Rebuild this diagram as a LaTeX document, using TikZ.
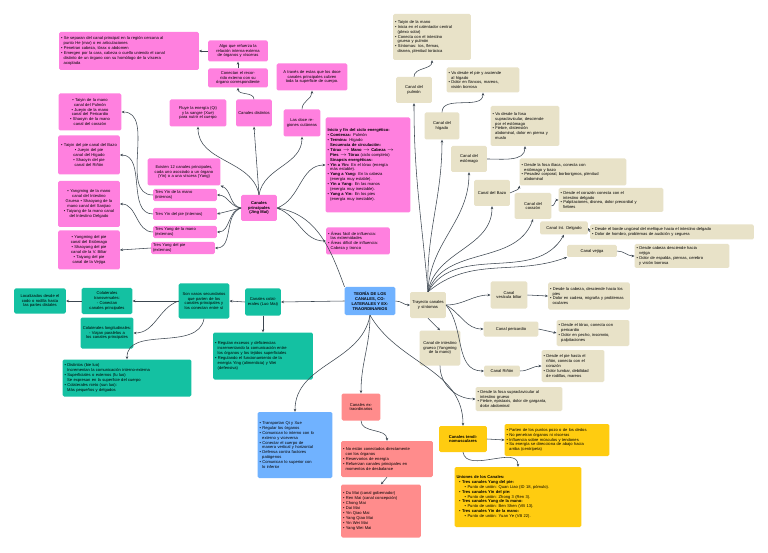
\documentclass[tikz,border=0pt]{standalone}
\usepackage{fontspec}
\setmainfont{Liberation Sans}
\usetikzlibrary{arrows.meta}
\definecolor{pinkc}{HTML}{FF80DF}
\definecolor{tealc}{HTML}{14C1A2}
\definecolor{bluec}{HTML}{70B2FF}
\definecolor{redc}{HTML}{FF8C8C}
\definecolor{beigec}{HTML}{E8E2C8}
\definecolor{yelc}{HTML}{FFCC10}
\definecolor{linec}{HTML}{3C4650}
\tikzset{
 base/.style={rounded corners=1.5pt, align=center, font=\fontsize{4.1}{4.9}\selectfont, inner sep=1.8pt, minimum height=12pt},
 pk/.style={base, fill=pinkc},
 tl/.style={base, fill=tealc},
 bl/.style={base, fill=bluec},
 rd/.style={base, fill=redc},
 bg/.style={base, fill=beigec},
 yl/.style={base, fill=yelc},
 lst/.style={align=left},
 arr/.style={-{Stealth[length=3pt,width=2.6pt]}, draw=linec, line width=0.55pt},
}
\begin{document}
\begin{tikzpicture}[x=1pt,y=-1pt]
\useasboundingbox[fill=white] (0,0) rectangle (768,553);
% ---------- pink ----------
\node[pk,lst,text width=136pt,minimum height=38pt] (p1) at (129,51) {• Se separan del canal principal en la región cercana al\\ \ \ punto He (mar) o en articulaciones\\• Penetran cabeza, tórax o abdomen\\• Emergen por la cara, cabeza o cuello uniendo el canal\\ \ \ distinto de un órgano con su homólogo de la víscera\\ \ \ acoplada};
\node[pk,text width=56pt,minimum height=21pt] (p2) at (238,51) {Algo que refuerza la relación interna-externa de órganos y vísceras};
\node[pk,text width=56pt,minimum height=19pt] (p3) at (238,78) {Conectan el recorrido externo con su órgano correspondiente};
\node[pk,text width=32pt,minimum height=27pt] (p4) at (254,113) {Canales distintos};
\node[pk,text width=53pt,minimum height=27pt] (p5) at (198,113) {Fluye la energía (Qi) y la sangre (Xue) para nutrir el cuerpo};
\node[pk,text width=67pt,minimum height=27pt] (p6) at (312,77) {A través de estas que los doce canales principales cubren toda la superficie de cuerpo.};
\node[pk,text width=33pt,minimum height=27pt] (p7) at (302,123) {Las doce regiones cutáneas};
\node[pk,lst,text width=81pt,minimum height=95pt] (p8) at (368,165) {\textbf{Inicio y fin del ciclo energético:}\\• \textbf{Comienza:} Pulmón\\• \textbf{Termina:} Hígado\\ \ \ \textbf{Secuencia de circulación:}\\• \textbf{Tórax} $\rightarrow$ \textbf{Mano} $\rightarrow$ \textbf{Cabeza} $\rightarrow$\\ \ \ \textbf{Pies} $\rightarrow$ \textbf{Tórax} (ciclo completo)\\ \ \ \textbf{Sinapsis energéticas:}\\• \textbf{Yin a Yin:} En el tórax (energía\\ \ \ más estable).\\• \textbf{Yang a Yang:} En la cabeza\\ \ \ (energía muy estable).\\• \textbf{Yin a Yang:} En las manos\\ \ \ (energía muy inestable).\\• \textbf{Yang a Yin:} En los pies\\ \ \ (energía muy inestable).};
\node[pk,lst,text width=60pt,minimum height=27pt] (p9) at (358,241) {• Áreas fácil de influencia:\\ \ \ las extremidades\\• Áreas difícil de influencia:\\ \ \ Cabeza y tronco};
\node[pk,text width=32pt,minimum height=26pt,font=\fontsize{4.1}{4.9}\selectfont\bfseries] (p10) at (259,208) {Canales principales (Jing Mai)};
\node[pk,text width=69pt,minimum height=27pt] (p11) at (184,172) {Existen 12 canales principales, cada uno asociado a un órgano (Yin) o a una víscera (Yang)};
\node[pk,lst,text width=60pt] (p12) at (185,195) {Tres Yin de la mano\\(internos)};
\node[pk,lst,text width=60pt] (p13) at (185,214) {Tres Yin del pie (internos)};
\node[pk,lst,text width=60pt] (p14) at (185,232) {Tres Yang de la mano\\(externos)};
\node[pk,lst,text width=60pt] (p15) at (183,248) {Tres Yang del pie\\(externos)};
\node[pk,text width=59pt,minimum height=37pt] (l1) at (90,112) {• Taiyin de la mano canal del Pulmón\\• Jueyin de la mano canal del Pericardio\\• Shaoyin de la mano canal del corazón};
\node[pk,text width=58pt,minimum height=39pt] (l2) at (89,155) {• Taiyin del pie canal del Bazo\\• Jueyin del pie canal del Hígado\\• Shaoyin del pie canal del Riñón};
\node[pk,text width=58pt,minimum height=46pt] (l3) at (89,204) {• Yangming de la mano canal del Intestino Grueso • Shaoyang de la mano canal del Sanjiao\\• Taiyang de la mano canal del Intestino Delgado};
\node[pk,text width=58pt,minimum height=39pt] (l4) at (89,250) {• Yangming del pie canal del Estómago\\• Shaoyang del pie canal de la V. Biliar\\• Taiyang del pie canal de la Vejiga};
% ---------- teal ----------
\node[tl,text width=48pt,minimum height=25pt] (t1) at (40,301) {Localizados desde el codo o rodilla hasta las partes distales};
\node[tl,text width=47pt,minimum height=26pt] (t2) at (107,301) {Colaterales transversales:\\- Conectan canales principales};
\node[tl,text width=49pt,minimum height=31pt] (t3) at (107,333) {Colaterales longitudinales:\\- Viajan paralelos a los canales principales};
\node[tl,text width=47pt,minimum height=35pt] (t4) at (204,301) {Son vasos secundarios que parten de los canales principales y los conectan entre sí};
\node[tl,text width=32pt,minimum height=27pt] (t5) at (263,302) {Canales colaterales (Luo Mai)};
\node[tl,lst,text width=96pt,minimum height=47pt] (t6) at (263,356) {• Regulan excesos y deficiencias\\ \ \ incrementando la comunicación entre\\ \ \ los órganos y los tejidos superficiales\\• Regulando el funcionamiento de la\\ \ \ energía Ying (alimenticia) y Wei\\ \ \ (defensiva)};
\node[tl,lst,text width=125pt,minimum height=37pt] (t7) at (127,378) {• Distintos (bie luo)\\ \ \ Incrementan la comunicación interno-externa\\• Superficiales o externos (fu luo)\\ \ \ Se expresan en la superficie del cuerpo\\• Colaterales nieto (sun luo):\\ \ \ Más pequeños y delgados};
% ---------- blue / red ----------
\node[bl,text width=47pt,minimum height=28pt,font=\fontsize{4.1}{4.9}\selectfont\bfseries] (c) at (370,301) {TEORÍA DE LOS CANALES, COLATERALES Y EXTRAORDINARIOS};
\node[bl,lst,text width=71pt,minimum height=66pt] (b2) at (295,445) {• Transportan Qi y Xue\\• Regular los órganos\\• Comunican lo interno con lo\\ \ \ externo y viceversa\\• Conectar el cuerpo de\\ \ \ manera vertical y horizontal\\• Defensa contra factores\\ \ \ patógenos\\• Comunican lo superior con\\ \ \ lo inferior};
\node[rd,text width=35pt,minimum height=27pt] (r1) at (361,407) {Canales extraordinarios};
\node[rd,lst,text width=88pt,minimum height=36pt] (r2) at (387,459) {• No están conectados directamente\\ \ \ con los órganos\\• Reservorios de energía\\• Refuerzan canales principales en\\ \ \ momentos de desbalance};
\node[rd,lst,text width=76pt,minimum height=53pt] (r3) at (381,511) {• Du Mai (canal gobernador)\\• Ren Mai (canal concepción)\\• Chong Mai\\• Dai Mai\\• Yin Qiao Mai\\• Yang Qiao Mai\\• Yin Wei Mai\\• Yang Wei Mai};
% ---------- beige ----------
\node[bg,text width=32pt,minimum height=26pt] (tr) at (428,305) {Trayecto canales y síntomas};
\node[bg,lst,text width=74pt,minimum height=46pt] (pulL) at (432,37) {• Taiyin de la mano\\• Inicia en el calentador central\\ \ \ (plexo solar)\\• Conecta con el intestino\\ \ \ grueso y pulmón\\• Síntomas: tos, flemas,\\ \ \ disnea, plenitud torácica};
\node[bg,text width=32pt,minimum height=26pt] (pul) at (414,90) {Canal del pulmón};
\node[bg,lst,text width=69pt,minimum height=25pt] (higL) at (483,80) {• Va desde el pie y asciende\\ \ \ al hígado\\• Dolor en flancos, mareos,\\ \ \ visión borrosa};
\node[bg,text width=31pt,minimum height=27pt] (hig) at (442,126) {Canal del hígado};
\node[bg,lst,text width=65pt,minimum height=40pt] (estL) at (525,126) {• Va desde la fosa\\ \ \ supraclavicular, desciende\\ \ \ por el estómago\\• Fiebre, distensión\\ \ \ abdominal, dolor en pierna y\\ \ \ muslo};
\node[bg,text width=32pt,minimum height=26pt] (est) at (469,159) {Canal del estómago};
\node[bg,lst,text width=103pt,minimum height=27pt] (bazL) at (573,172) {• Desde la fosa ilíaca, conecta con\\ \ \ estómago y bazo\\• Pesadez corporal, borborigmos, plenitud\\ \ \ abdominal};
\node[bg,text width=32pt,minimum height=26pt] (baz) at (492,193) {Canal del Bazo};
\node[bg,lst,text width=101pt,minimum height=24pt] (corL) at (611,200) {• Desde el corazón conecta con el\\ \ \ intestino delgado\\• Palpitaciones, disnea, dolor precordial y\\ \ \ fiebres};
\node[bg,text width=33pt,minimum height=26pt] (cor) at (533,206) {Canal del corazón};
\node[bg,text width=44pt,minimum height=13pt] (idl) at (564,228) {Canal Int. Delgado};
\node[bg,lst,text width=160pt,minimum height=15pt] (idlL) at (672,232) {• Desde el borde ungüeal del meñique hacia el intestino delgado\\• Dolor de hombro, problemas de audición y ceguera};
\node[bg,text width=46pt,minimum height=12pt] (vej) at (592,251) {Canal vejiga};
\node[bg,lst,text width=91pt,minimum height=24pt] (vejL) at (682,256) {• Desde cabeza desciende hacia\\ \ \ vejiga\\• Dolor de espalda, piernas, cerebro\\ \ \ y visión borrosa};
\node[bg,text width=33pt,minimum height=27pt] (ves) at (509,295) {Canal vesícula biliar};
\node[bg,lst,text width=78pt,minimum height=27pt] (vesL) at (589,296) {• Desde la cabeza, desciende hacia los\\ \ \ pies\\• Dolor en cadera, migraña y problemas\\ \ \ oculares};
\node[bg,text width=51pt,minimum height=15pt] (per) at (511,329) {Canal pericardio};
\node[bg,lst,text width=69pt,minimum height=26pt] (perL) at (593,333) {• Desde el tórax, conecta con\\ \ \ pericardio\\• Dolor en pecho, insomnio,\\ \ \ palpitaciones};
\node[bg,text width=32pt,minimum height=11pt] (rin) at (502,371) {Canal Riñón};
\node[bg,lst,text width=59pt,minimum height=32pt] (rinL) at (573,366) {• Desde el pie hasta el\\ \ \ riñón, conecta con el\\ \ \ corazón\\• Dolor lumbar, debilidad\\ \ \ de rodillas, mareos};
\node[bg,text width=37pt,minimum height=35pt] (ig) at (440,348) {Canal de intestino grueso (Yangming de la mano)};
\node[bg,lst,text width=83pt,minimum height=24pt] (igL) at (519,399) {• Desde la fosa supraclavicular al\\ \ \ intestino grueso\\• Fiebre, epistaxis, dolor de garganta,\\ \ \ dolor abdominal};
% ---------- yellow ----------
\node[yl,text width=44pt,minimum height=26pt,font=\fontsize{4.1}{4.9}\selectfont\bfseries] (tm) at (463,439) {Canales tendinomusculares};
\node[yl,lst,text width=101pt,minimum height=32pt] (tmL) at (557,440) {• Parten de los puntos pozo o de los dedos\\• No penetran órganos ni vísceras\\• Influencia sobre músculos y tendones\\• Su energía se direcciona de abajo hacia\\ \ \ arriba (centrípeta)};
\node[yl,lst,text width=123pt,minimum height=60pt] (un) at (518,497) {\textbf{Uniones de los Canales:}\\ \ \ • \textbf{Tres canales Yang del pie:}\\ \ \ \ \ \ \ • Punto de unión: Quan Liao (ID 18, pómulo).\\ \ \ • \textbf{Tres canales Yin del pie:}\\ \ \ \ \ \ \ • Punto de unión: Zhong 3 (Ren 3).\\ \ \ • \textbf{Tres canales Yang de la mano:}\\ \ \ \ \ \ \ • Punto de unión: Ben Shen (VB 13).\\ \ \ • \textbf{Tres canales Yin de la mano:}\\ \ \ \ \ \ \ • Punto de unión: Yuan Ye (VB 22).};
% ---------- connectors ----------
\draw[arr] (c.north west) to[out=110,in=-10] (p10.east);
\draw[arr] (p10.north) to[out=100,in=-90] (p5.south);
\draw[arr] (p10.north) -- (p4.south);
\draw[arr] (p10.north) to[out=80,in=-90] (p7.south);
\draw[arr] (p10.east) to[out=20,in=180] (p8.west);
\draw[arr] (p10.east) to[out=-20,in=180] (p9.west);
\draw[arr] (p10.west) to[out=170,in=-20] (p11.south east);
\draw[arr] (p10.west) to[out=175,in=0] (p12.east);
\draw[arr] (p10.west) -- (p13.east);
\draw[arr] (p10.west) to[out=190,in=0] (p14.east);
\draw[arr] (p10.west) to[out=200,in=0] (p15.east);
\draw[arr] (p4.north) to[out=90,in=-90] (p3.south);
\draw[arr] (p3.north) -- (p2.south);
\draw[arr] (p2.west) -- (p1.east);
\draw[arr] (p7.north) to[out=90,in=-90] (p6.south);
\draw[arr] (p12.west) to[out=180,in=0] (l1.east);
\draw[arr] (p13.west) to[out=180,in=0] (l2.east);
\draw[arr] (p14.west) to[out=180,in=0] (l3.east);
\draw[arr] (p15.west) -- (l4.east);
\draw[arr] (c.west) -- (t5.east);
\draw[arr] (t5.west) -- (t4.east);
\draw[arr] (t5.south) -- (t6.north);
\draw[arr] (t4.west) -- (t2.east);
\draw[arr] (t2.west) -- (t1.east);
\draw[arr] (t4.west) to[out=200,in=0] (t3.east);
\draw[arr] (t4.south) to[out=-100,in=90] (t7.north);
\draw[arr] (c.south) to[out=-100,in=90] (b2.north);
\draw[arr] (c.south) to[out=-90,in=90] (r1.north);
\draw[arr] (r1.south) to[out=-90,in=90] (r2.north);
\draw[arr] (r2.south) -- (r3.north);
\draw[arr] (c.south) to[out=-60,in=90] (tm.north);
\draw[arr] (c.east) to[out=0,in=180] (tr.west);
\draw[arr] (tr.north) to[out=95,in=-90] (pul.south);
\draw[arr] (tr.north) to[out=92,in=-90] (hig.south);
\draw[arr] (tr.north) to[out=88,in=-90] (est.south);
\draw[arr] (tr.north) to[out=80,in=-90] (baz.south);
\draw[arr] (tr.north) to[out=70,in=-110] (cor.south);
\draw[arr] (tr.north) to[out=60,in=-120] (idl.south);
\draw[arr] (tr.north) to[out=40,in=-160] (vej.south west);
\draw[arr] (tr.east) to[out=0,in=180] (ves.west);
\draw[arr] (tr.east) to[out=-30,in=180] (per.west);
\draw[arr] (tr.east) to[out=-50,in=180] (rin.west);
\draw[arr] (tr.south) -- (ig.north);
\draw[arr] (pul.north) to[out=90,in=-90] (pulL.south);
\draw[arr] (hig.north) to[out=90,in=-90] (higL.south);
\draw[arr] (est.east) to[out=0,in=-90] (estL.south);
\draw[arr] (baz.east) to[out=30,in=-100] (bazL.south west);
\draw[arr] (cor.east) to[out=0,in=180] (corL.west);
\draw[arr] (idlL.west) -- (idl.east);
\draw[arr] (vej.east) to[out=0,in=180] (vejL.west);
\draw[arr] (ves.east) -- (vesL.west);
\draw[arr] (per.east) -- (perL.west);
\draw[arr] (rin.east) to[out=0,in=180] (rinL.west);
\draw[arr] (ig.south) to[out=-90,in=180] (igL.west);
\draw[arr] (tm.east) -- (tmL.west);
\draw[arr] (tm.south) to[out=-80,in=90] (un.north);
\end{tikzpicture}
\end{document}
